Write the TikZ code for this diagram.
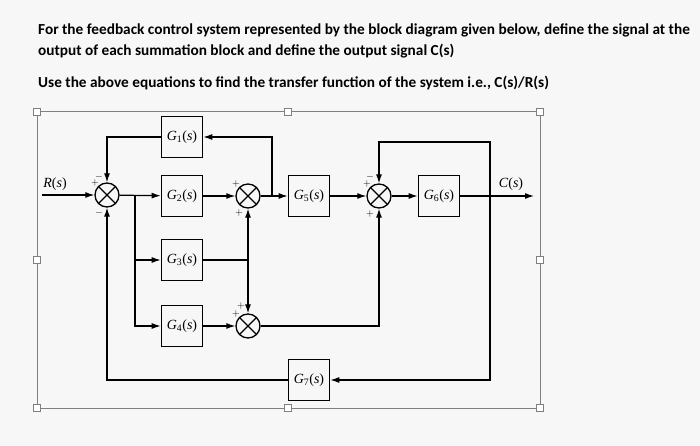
\documentclass[tikz,border=0pt]{standalone}
\usepackage{fontspec}
\setmainfont{Carlito}
\newfontfamily\tms{Liberation Serif}
\usetikzlibrary{arrows.meta}
\newcommand\gfn[1]{\textit{G}\textsubscript{#1}(\textit{s})}
\tikzset{
  blk/.style={draw, line width=1.6pt, minimum width=41pt, minimum height=41pt, inner sep=0pt, font=\fontsize{14}{14}\selectfont\tms},
  sum/.style={draw, circle, line width=1.3pt, minimum size=24pt, inner sep=0pt,
    path picture={\draw[line width=1.3pt] (path picture bounding box.north west)--(path picture bounding box.south east)
      (path picture bounding box.north east)--(path picture bounding box.south west);}},
  sig/.style={line width=1.2pt, -{Latex[length=9pt,width=6pt]}},
  ln/.style={line width=1.2pt},
  lbl/.style={font=\fontsize{14}{14}\selectfont\tms},
  sgn/.style={font=\fontsize{10}{10}\selectfont, inner sep=1pt},
  hdl/.style={draw=gray, fill=white, minimum size=7pt, inner sep=0pt},
  ttl/.style={anchor=west, font=\fontsize{15.3}{15.3}\selectfont\bfseries, inner sep=0pt}
}
\begin{document}
\begin{tikzpicture}[x=1pt,y=-1pt]
\useasboundingbox (0,0) rectangle (700,446);
\fill[white!94!gray] (0,0) rectangle (700,446);
% heading
\node[ttl] (t1) at (38,30) {For the feedback control system represented by the block diagram given below, define the signal at the};
\node[ttl] (t2) at (38,51) {output of each summation block and define the output signal C(s)};
\node[ttl] (t3) at (38,83) {Use the above equations to find the transfer function of the system i.e., C(s)/R(s)};
% frame
\draw[gray, line width=1pt] (37,112) rectangle (540,408);
\foreach \p in {(37,112),(288,112),(540,112),(37,260),(540,260),(37,408),(288,408),(540,408)}
  \node[hdl] at \p {};
% blocks
\node[blk] (g1) at (182,137) {\gfn{1}};
\node[blk] (g2) at (182,196) {\gfn{2}};
\node[blk] (g3) at (182,260) {\gfn{3}};
\node[blk] (g4) at (182,326) {\gfn{4}};
\node[blk] (g5) at (309,196) {\gfn{5}};
\node[blk] (g6) at (439,196) {\gfn{6}};
\node[blk] (g7) at (309,380) {\gfn{7}};
\node[sum] (s1) at (107,195) {};
\node[sum] (s2) at (248,196) {};
\node[sum] (s3) at (379,196) {};
\node[sum] (s4) at (248,326) {};
% junction points
\coordinate (in) at (42,195);
\coordinate (out) at (534,196);
\coordinate (b1) at (135,195);
\coordinate (j3) at (248,260);
\coordinate (tk) at (272,196);
\coordinate (co) at (490,196);
% labels
\node[lbl] (rl) at (55,184) {\textit{R}(\textit{s})};
\node[lbl] (cl) at (511,184) {\textit{C}(\textit{s})};
% signals
\draw[sig] (in) -- (s1);
\draw[sig] (s1) -- (g2);
\draw[sig] (b1) |- (g3);
\draw[sig] (b1) |- (g4);
\draw[sig] (g2) -- (s2);
\draw[sig] (g4) -- (s4);
\draw[ln] (g3) -- (j3);
\draw[sig] (j3) -- (s2.south);
\draw[sig] (j3) -- (s4.north);
\draw[sig] (s2) -- (g5);
\draw[sig] (tk) |- (g1);
\draw[sig] (g1) -| (s1);
\draw[sig] (g5) -- (s3);
\draw[sig] (s3) -- (g6);
\draw[sig] (g6) -- (out);
\draw[sig] (s4) -| (s3);
\draw[sig] (co) |- (379,142) -- (s3);
\draw[sig] (co) |- (g7);
\draw[sig] (g7) -| (s1);
% signs
\node[sgn] at (95,183) {$+$};
\node[sgn] at (99,177) {$-$};
\node[sgn] at (99,213) {$-$};
\node[sgn] at (236,184) {$+$};
\node[sgn] at (239,213) {$+$};
\node[sgn] at (236,314) {$+$};
\node[sgn] at (241,306) {$+$};
\node[sgn] at (367,184) {$+$};
\node[sgn] at (370,177) {$-$};
\node[sgn] at (370,214) {$+$};
\end{tikzpicture}
\end{document}
